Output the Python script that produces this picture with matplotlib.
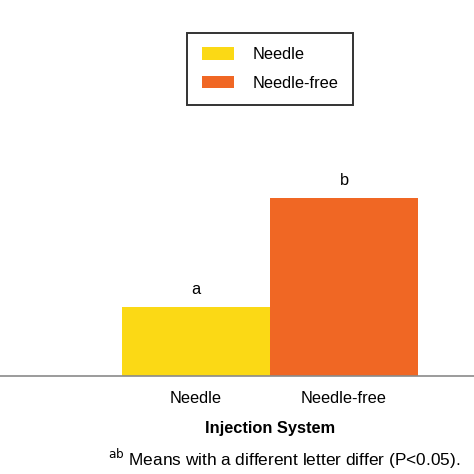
import matplotlib
matplotlib.use("Agg")
import matplotlib.pyplot as plt
from matplotlib.patches import Patch

plt.rcParams['font.family'] = ['Liberation Sans', 'DejaVu Sans']

# data (no y axis shown, arbitrary units)
systems = ["Needle", "Needle-free"]
means = [35, 90]
letters = ["a", "b"]
colors = ["#FBD915", "#F06724"]

fs = 11.8

fig = plt.figure(figsize=(4.74, 4.74), dpi=100)
ax = fig.add_axes([0, (474 - 376) / 474, 1, 376 / 474])

x = list(range(len(systems)))
ax.bar(x, means, width=1.0, color=colors, edgecolor="none")
for xi, m, lab in zip(x, means, letters):
    ax.text(xi, m + 5, lab, ha="center", va="bottom", fontsize=fs)

ax.set_xlim(-196 / 148, (474 - 196) / 148)
ax.set_ylim(0, 90 * 376 / 178)
ax.set_xticks(x)
ax.set_xticklabels(systems, fontsize=fs)
ax.tick_params(axis="x", length=0, pad=11)
ax.set_yticks([])
for s in ["top", "right", "left"]:
    ax.spines[s].set_visible(False)
ax.spines["bottom"].set_color("#8a8a8a")
ax.spines["bottom"].set_linewidth(1.2)

fig.text(270 / 474, 1 - 428 / 474, "Injection System", ha="center", va="center",
         fontsize=fs, fontweight="bold")
fig.text(284 / 474, 1 - 459 / 474, r"$^{\mathrm{ab}}$ Means with a different letter differ (P<0.05).",
         ha="center", va="center", fontsize=12.4)

handles = [Patch(facecolor=c, edgecolor="none") for c in colors]
leg = ax.legend(handles, systems, loc="center", bbox_to_anchor=(270 / 474, (376 - 69) / 376),
                fontsize=fs, frameon=True, fancybox=False, handlelength=2.0, handleheight=0.8,
                borderpad=0.9, labelspacing=0.8, handletextpad=1.1, borderaxespad=0)
leg.get_frame().set_edgecolor("black")
leg.get_frame().set_linewidth(1.4)

fig.savefig("out.png", dpi=100)
